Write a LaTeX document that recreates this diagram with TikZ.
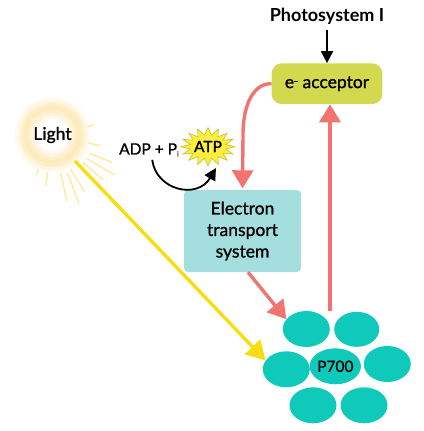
\documentclass[tikz,border=0pt]{standalone}
\usepackage{fontspec}
\setmainfont{Lato}
\newfontfamily\medfont[FakeBold=1.1]{Lato}
\usepackage{xcolor}
\usetikzlibrary{arrows.meta,calc,shapes.geometric}
\definecolor{tealdisc}{HTML}{0FCABA}
\definecolor{etsfill}{HTML}{A4DEDE}
\definecolor{acceptfill}{HTML}{D3D94F}
\definecolor{redarr}{HTML}{F2746E}
\definecolor{sunyellow}{HTML}{F8DC14}
\definecolor{raycol}{HTML}{FDEBA3}
\definecolor{atpfill}{HTML}{FBEE3C}
\tikzset{lab/.style={font=\fontsize{17.5}{21.5}\medfont,align=center,inner sep=0pt},
  smalllab/.style={lab,font=\fontsize{15.5}{18}\medfont},
  disc/.style={ellipse,fill=tealdisc,minimum width=47pt,minimum height=36pt,inner sep=0pt},
  redline/.style={redarr,line width=3.4pt,-{Triangle[length=18pt,width=21pt]}},
  blackline/.style={black,line width=1.8pt,-{Triangle[length=12pt,width=12pt]}}}

\begin{document}
\begin{tikzpicture}[x=1pt,y=-1pt,
  ray/.style={raycol,line width=1.5pt},
  ring/.style={circle,inner sep=0pt,minimum size=#1}]
\useasboundingbox (0,0) rectangle (423,431);
% sun
\foreach \rad/\col in {76/FFFBF0,70/FEF6E0,64/FDEFCA,58/FDEBBC,50/FEEFCB,44/FEF4DC,38/FFF9EE,32/FFFFFF}{
  \definecolor{ringcol}{HTML}{\col}
  \node[ring=\rad pt,fill=ringcol] at (52.5,135) {};
}
\foreach \xa/\ya/\xb/\yb in {87.3/126.7/94.3/124.7,88.3/142.7/100/145.7,89.3/153.3/111.7/162.3,
  87.3/158.7/114.3/175,83.3/162.7/103.3/180,70.7/169.3/84.7/192,67.7/173.3/79/203.3,
  60.7/173.3/67/201.3,47.7/172.3/45.7/185.7,38.7/169.3/36/175.3}
  \draw[ray] (\xa,\ya) -- (\xb,\yb);
\node[lab] (light) at (52.5,135) {Light};
\coordinate (lightedge) at (75,161);
% boxes
\node[lab,fill=etsfill,rounded corners=4pt,minimum width=117pt,minimum height=82pt] (ets) at (242.5,231) {Electron\\transport\\system};
\node[lab,fill=acceptfill,rounded corners=10pt,minimum width=110.6pt,minimum height=40.7pt] (acc) at (327,83.7) {e\raisebox{6pt}{\rule{4pt}{1pt}} acceptor};
\node[lab,font=\fontsize{18}{21}\selectfont\bfseries] (psi) at (327,16.5) {Photosystem I};
% P700 cluster
\node[disc] (p1) at (306.3,329) {};
\node[disc,minimum width=45pt,minimum height=35pt] (p2) at (356.7,329.3) {};
\node[disc] (p3) at (286.3,369.3) {};
\node[disc,smalllab,minimum width=47pt,minimum height=36pt] (p700) at (335.3,366.3) {P700};
\node[disc] (p5) at (387.3,364) {};
\node[disc] (p6) at (313,405.3) {};
\node[disc] (p7) at (364,405.3) {};
% ATP
\draw[fill=atpfill,draw=atpfill!80!black,line width=.6pt] plot[samples=33,domain=0:32]
  ({208+(22.5+4.5*cos(180*\x))*cos(\x*11.25)},{146.7+(15.5+3.7*cos(180*\x))*sin(\x*11.25)}) -- cycle;
\node[smalllab] (atp) at (208,146.5) {ATP};
\node[smalllab,anchor=west] (adp) at (119,150) {ADP + P\textsubscript{\fontsize{7}{7}\selectfont\mdseries i}};
\coordinate (atptip) at (216,168);
% connectors
\draw[blackline] (psi.south |- 0,30) -- (acc.north);
\draw[redline] ([xshift=3pt,yshift=-207pt]acc.south) -- ([xshift=3pt]acc.south);
\draw[redline,shorten >=1.5pt] (acc.west) .. controls (255,83) and (243,102) .. (243,135) -- (ets.north);
\draw[redline] ([xshift=5.5pt]ets.south) -- (p1.154);
\draw[sunyellow,line width=3.4pt,-{Triangle[length=19pt,width=21pt]}] (lightedge) -- (p3.157);
\draw[blackline] ([xshift=3pt,yshift=-3pt]adp.south) .. controls (156,190) and (197,200) .. (atptip);
\end{tikzpicture}
\end{document}
